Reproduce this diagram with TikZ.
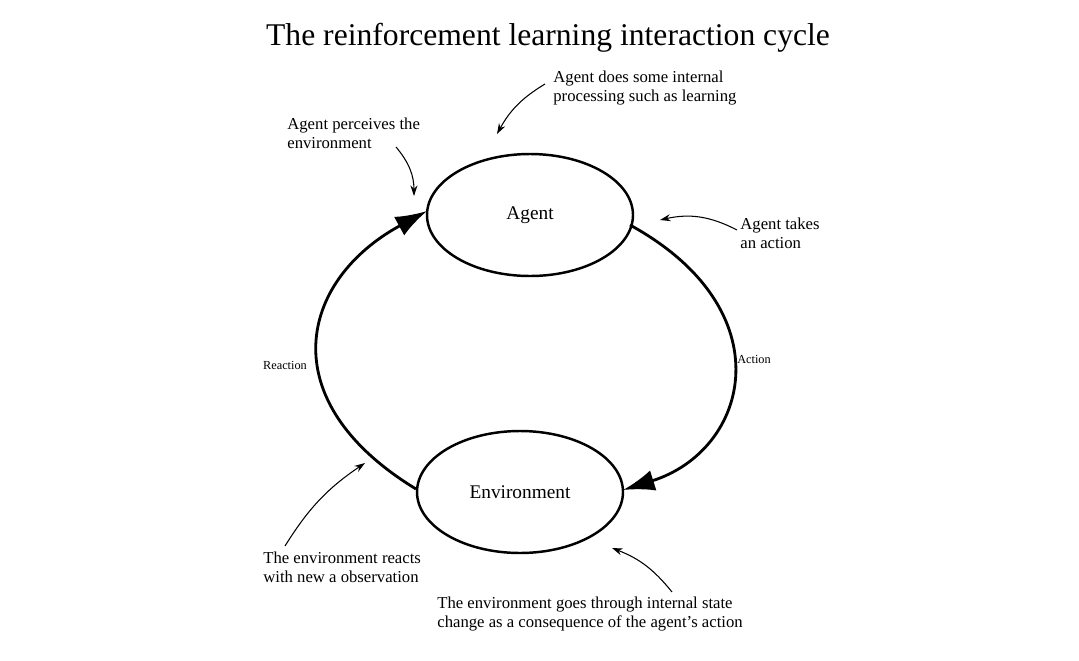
\documentclass[tikz,border=0pt]{standalone}
\usepackage{fontspec}
\setmainfont{Liberation Serif}
\usetikzlibrary{arrows.meta,shapes.geometric}
\begin{document}
\begin{tikzpicture}[x=0.02cm,y=-0.02cm,
  ell/.style={draw,line width=1.4pt,ellipse,minimum width=206*0.02cm,minimum height=122*0.02cm,font=\fontsize{11}{13}\selectfont},
  cyc/.style={line width=1.6pt,-{Latex[length=18pt,width=12pt]}},
  note/.style={font=\fontsize{9.5}{10.5}\selectfont,align=left,anchor=north west,inner sep=0pt},
  pt/.style={-{Stealth[length=6pt,width=4pt]},line width=0.6pt},
  lab/.style={font=\fontsize{7}{8}\selectfont}]
\useasboundingbox (0,0) rectangle (1079,660);
\node[font=\fontsize{18}{20}\selectfont] (title) at (548,38) {The reinforcement learning interaction cycle};
\node[ell] (agent) at (530,215) {Agent};
\node[ell] (env) at (520,492) {Environment};
\coordinate (a1) at (630,225);
\coordinate (a2) at (623,490);
\draw[cyc] (a1) .. controls (785,310) and (750,450) .. (a2);
\coordinate (r1) at (416,489);
\coordinate (r2) at (427,211);
\draw[cyc] (r1) .. controls (270,400) and (300,280) .. (r2);
\node[lab] (act) at (754,359) {Action};
\node[lab] (rea) at (285,365) {Reaction};
\node[note] (n1) at (553,71) {Agent does some internal\\processing such as learning};
\node[note] (n2) at (287,118) {Agent perceives the\\environment};
\node[note] (n3) at (740,218) {Agent takes\\an action};
\node[note] (n4) at (263,552) {The environment reacts\\with new a observation};
\node[note] (n5) at (437,597) {The environment goes through internal state\\change as a consequence of the agent's action};
\coordinate (p1) at (545,84); \coordinate (q1) at (497,134);
\draw[pt] (p1) to[bend right=15] (q1);
\coordinate (p2) at (396,147); \coordinate (q2) at (414,196);
\draw[pt] (p2) to[bend left=20] (q2);
\coordinate (p3) at (737,230); \coordinate (q3) at (660,220);
\draw[pt] (p3) to[bend right=20] (q3);
\coordinate (p4) at (285,546); \coordinate (q4) at (365,463);
\draw[pt] (p4) to[bend left=12] (q4);
\coordinate (p5) at (672,592); \coordinate (q5) at (612,548);
\draw[pt] (p5) to[bend right=15] (q5);
\end{tikzpicture}
\end{document}
